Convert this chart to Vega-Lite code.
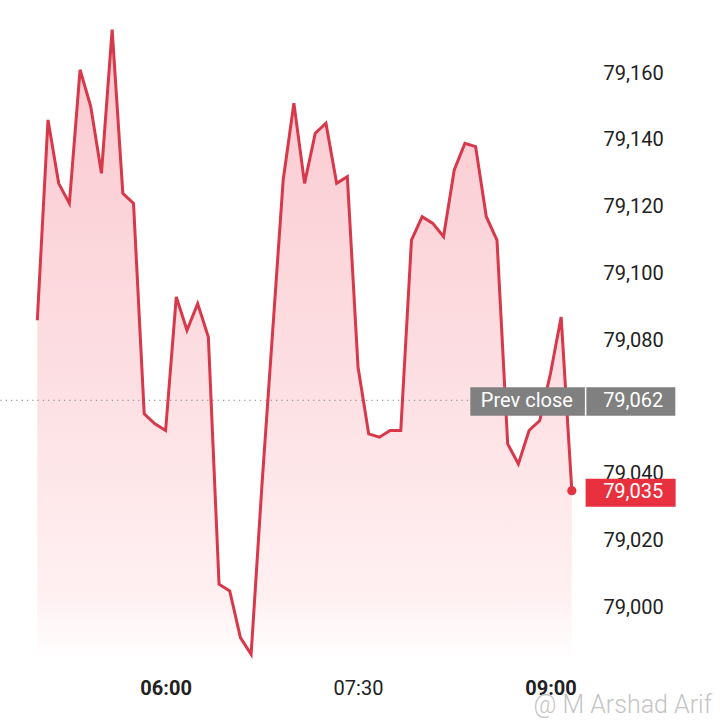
{
  "$schema": "https://vega.github.io/schema/vega-lite/v6.json",
  "width": 590,
  "height": 640,
  "autosize": {"type": "none"},
  "padding": {"left": 0, "top": 20, "right": 130, "bottom": 67},
  "background": "#ffffff",
  "config": {
    "font": "Roboto",
    "view": {"stroke": null},
    "title": {"font": "Roboto"}
  },
  "title": {
    "text": "@ M Arshad Arif",
    "orient": "bottom",
    "anchor": "end",
    "align": "right",
    "frame": "group",
    "fontSize": 25,
    "fontWeight": 300,
    "color": "#c4c4c4",
    "offset": -5,
    "dx": 122
  },
  "data": {
    "format": {"parse": {"t": "utc:'%H:%M'"}},
    "values": [
      {"t": "05:00", "v": 79086},
      {"t": "05:05", "v": 79146},
      {"t": "05:10", "v": 79127},
      {"t": "05:15", "v": 79121},
      {"t": "05:20", "v": 79161},
      {"t": "05:25", "v": 79150},
      {"t": "05:30", "v": 79130},
      {"t": "05:35", "v": 79173},
      {"t": "05:40", "v": 79124},
      {"t": "05:45", "v": 79121},
      {"t": "05:50", "v": 79058},
      {"t": "05:55", "v": 79055},
      {"t": "06:00", "v": 79053},
      {"t": "06:05", "v": 79093},
      {"t": "06:10", "v": 79083},
      {"t": "06:15", "v": 79091},
      {"t": "06:20", "v": 79081},
      {"t": "06:25", "v": 79007},
      {"t": "06:30", "v": 79005},
      {"t": "06:35", "v": 78991},
      {"t": "06:40", "v": 78986},
      {"t": "06:45", "v": 79036},
      {"t": "06:50", "v": 79082},
      {"t": "06:55", "v": 79128},
      {"t": "07:00", "v": 79151},
      {"t": "07:05", "v": 79127},
      {"t": "07:10", "v": 79142},
      {"t": "07:15", "v": 79145},
      {"t": "07:20", "v": 79127},
      {"t": "07:25", "v": 79129},
      {"t": "07:30", "v": 79072},
      {"t": "07:35", "v": 79052},
      {"t": "07:40", "v": 79051},
      {"t": "07:45", "v": 79053},
      {"t": "07:50", "v": 79053},
      {"t": "07:55", "v": 79110},
      {"t": "08:00", "v": 79117},
      {"t": "08:05", "v": 79115},
      {"t": "08:10", "v": 79111},
      {"t": "08:15", "v": 79131},
      {"t": "08:20", "v": 79139},
      {"t": "08:25", "v": 79138},
      {"t": "08:30", "v": 79117},
      {"t": "08:35", "v": 79110},
      {"t": "08:40", "v": 79049},
      {"t": "08:45", "v": 79043},
      {"t": "08:50", "v": 79053},
      {"t": "08:55", "v": 79056},
      {"t": "09:00", "v": 79070},
      {"t": "09:05", "v": 79087},
      {"t": "09:10", "v": 79035}
    ]
  },
  "encoding": {
    "x": {
      "field": "t",
      "type": "temporal",
      "scale": {
        "type": "utc",
        "domain": [
          {"year": 1900, "month": 1, "date": 1, "hours": 4, "minutes": 42, "seconds": 33, "utc": true},
          {"year": 1900, "month": 1, "date": 1, "hours": 9, "minutes": 18, "seconds": 30, "utc": true}
        ]
      },
      "axis": {
        "title": null,
        "values": [
          {"year": 1900, "month": 1, "date": 1, "hours": 6, "minutes": 0, "utc": true},
          {"year": 1900, "month": 1, "date": 1, "hours": 7, "minutes": 30, "utc": true},
          {"year": 1900, "month": 1, "date": 1, "hours": 9, "minutes": 0, "utc": true}
        ],
        "labelExpr": "utcFormat(datum.value, '%H:%M')",
        "domain": false,
        "ticks": false,
        "grid": false,
        "labelFontSize": 20,
        "labelColor": "#212121",
        "labelPadding": 18,
        "labelFlush": false,
        "labelOverlap": false,
        "labelFontWeight": {
          "condition": {"test": "utcminutes(datum.value) == 0", "value": "bold"},
          "value": "normal"
        }
      }
    },
    "y": {
      "field": "v",
      "type": "quantitative",
      "stack": null,
      "scale": {"domain": [78984.3, 79175.9], "nice": false, "zero": false},
      "axis": {
        "orient": "right",
        "title": null,
        "values": [79000, 79020, 79040, 79080, 79100, 79120, 79140, 79160],
        "format": ",d",
        "domain": false,
        "ticks": false,
        "grid": false,
        "labelAlign": "left",
        "labelPadding": 13,
        "labelFontSize": 20,
        "labelColor": "#212121",
        "labelOverlap": false,
        "labelFlush": false
      }
    }
  },
  "layer": [
    {
      "mark": {
        "type": "area",
        "line": false,
        "fill": {
          "gradient": "linear",
          "x1": 0, "y1": 0, "x2": 0, "y2": 1,
          "stops": [
            {"offset": 0, "color": "#fac8cf"},
            {"offset": 0.27, "color": "#fbd3d8"},
            {"offset": 0.59, "color": "#fde1e4"},
            {"offset": 0.9, "color": "#fff0f2"},
            {"offset": 1, "color": "#ffffff"}
          ]
        }
      }
    },
    {
      "data": {"values": [{"v": 79062}]},
      "mark": {"type": "rule", "color": "#9e9e9e", "strokeWidth": 1.3, "strokeDash": [1.3, 4]},
      "encoding": {"x": null, "y": {"field": "v", "type": "quantitative"}}
    },
    {
      "mark": {"type": "line", "color": "#d7384a", "strokeWidth": 3, "strokeJoin": "miter"}
    },
    {
      "data": {
        "format": {"parse": {"t": "utc:'%H:%M'"}},
        "values": [
          {"t": "09:10", "v": 79062, "kind": "prev", "name": "Prev close"},
          {"t": "09:10", "v": 79035, "kind": "last", "name": ""}
        ]
      },
      "layer": [
        {
          "transform": [{"filter": "datum.kind == 'last'"}],
          "mark": {"type": "point", "shape": "circle", "filled": true, "size": 85, "color": "#e0323f", "opacity": 1}
        },
        {
          "transform": [{"filter": "datum.kind == 'prev'"}],
          "mark": {"type": "point", "shape": "M-1,-0.1385H1V0.1385H-1Z", "filled": true, "size": 42025, "color": "#808080", "opacity": 1, "xOffset": 1, "yOffset": 1}
        },
        {
          "transform": [{"filter": "datum.kind == 'prev'"}],
          "mark": {"type": "point", "shape": "M0,-1V1", "filled": false, "size": 807, "stroke": "#ffffff", "strokeWidth": 1.5, "opacity": 1, "xOffset": 13.8, "yOffset": 1}
        },
        {
          "transform": [{"filter": "datum.kind == 'last'"}],
          "mark": {"type": "point", "shape": "M-1,-0.311H1V0.311H-1Z", "filled": true, "size": 8100, "color": "#e8303f", "opacity": 1, "xOffset": 58.8, "yOffset": 2}
        },
        {
          "transform": [{"filter": "datum.kind == 'prev'"}],
          "mark": {"type": "text", "color": "#ffffff", "fontSize": 20, "align": "center", "baseline": "middle", "dx": -45, "dy": 1},
          "encoding": {"text": {"field": "name", "type": "nominal"}}
        },
        {
          "mark": {"type": "text", "color": "#ffffff", "fontSize": 20, "align": "left", "baseline": "middle", "dx": 31.3, "dy": 1},
          "encoding": {"text": {"field": "v", "type": "quantitative", "format": ","}}
        }
      ]
    }
  ]
}
